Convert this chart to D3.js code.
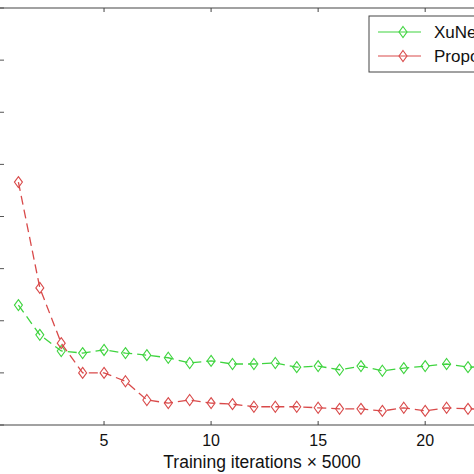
<!DOCTYPE html>
<html><head><meta charset="utf-8">
<script src="https://d3js.org/d3.v7.min.js"></script>
<style>body{margin:0;background:#fff}svg{display:block}</style>
</head><body>
<svg id="chart" width="474" height="474"></svg>
<script>
var iters = d3.range(1, 24)
var xunet = [2.30,1.73,1.42,1.38,1.44,1.38,1.34,1.29,1.19,1.23,1.17,1.17,1.19,1.11,1.13,1.06,1.13,1.04,1.09,1.13,1.17,1.11,1.12]
var proposed = [4.66,2.63,1.57,1.00,1.00,0.84,0.48,0.42,0.48,0.42,0.40,0.35,0.35,0.35,0.33,0.31,0.31,0.27,0.33,0.27,0.33,0.31,0.30]
var xTicks = [5, 10, 15, 20]
var yTicks = d3.range(0, 9)
var nombres = ['XuNet', 'Proposed']
var colores = ['#3fd43f', '#d94a4a']

var svg = d3.select('#chart')
var x = d3.scaleLinear().domain([0, 22]).range([-3, 468])
var y = d3.scaleLinear().domain([0, 8]).range([425, 8])

var g = svg.append('g')
g.append('line').attr('x1', 0).attr('x2', 474).attr('y1', y(0)).attr('y2', y(0)).attr('stroke', '#444').attr('stroke-width', 1.2)
g.append('line').attr('x1', 0).attr('x2', 474).attr('y1', y(8)).attr('y2', y(8)).attr('stroke', '#444').attr('stroke-width', 1.2)

// ticks
xTicks.forEach(function(t){
    g.append('line').attr('x1', x(t)).attr('x2', x(t)).attr('y1', y(0)).attr('y2', y(0)-4).attr('stroke', '#444')
    g.append('line').attr('x1', x(t)).attr('x2', x(t)).attr('y1', y(8)).attr('y2', y(8)+4).attr('stroke', '#444')
    g.append('text').attr('x', x(t)).attr('y', 446).attr('text-anchor', 'middle')
        .attr('font-family', 'Liberation Sans, Arial').attr('font-size', 16).attr('fill', '#111').text(t)
})
yTicks.forEach(function(t){
    g.append('line').attr('x1', 0).attr('x2', 4).attr('y1', y(t)).attr('y2', y(t)).attr('stroke', '#555')
})
g.append('text').attr('x', 262).attr('y', 468).attr('text-anchor', 'middle')
    .attr('font-family', 'Liberation Sans, Arial').attr('font-size', 17.5).attr('fill', '#111')
    .text('Training iterations \u00d7 5000')

var diamante = function(sel, cx, cy, c){
    sel.append('path').attr('d', 'M' + cx + ',' + (cy-5.5) + 'L' + (cx+4) + ',' + cy + 'L' + cx + ',' + (cy+5.5) + 'L' + (cx-4) + ',' + cy + 'Z')
        .attr('fill', 'none').attr('stroke', c).attr('stroke-width', 1.1)
}

var linea = d3.line().x(function(d){ return x(d[0]) }).y(function(d){ return y(d[1]) })
;[xunet, proposed].forEach(function(serie, i){
    var pts = iters.map(function(it, k){ return [it, serie[k]] })
    g.append('path').attr('d', linea(pts)).attr('fill', 'none').attr('stroke', colores[i])
        .attr('stroke-width', 1.3).attr('stroke-dasharray', '9,5')
    pts.forEach(function(p){ diamante(g, x(p[0]), y(p[1]), colores[i]) })
})

// leyenda
var ley = svg.append('g')
ley.append('rect').attr('x', 369).attr('y', 16).attr('width', 120).attr('height', 56)
    .attr('fill', '#fff').attr('stroke', '#444').attr('stroke-width', 1)
nombres.forEach(function(n, i){
    var ly = 32 + i * 24
    ley.append('line').attr('x1', 378).attr('x2', 421).attr('y1', ly).attr('y2', ly).attr('stroke', colores[i]).attr('stroke-width', 1.2)
    diamante(ley, 403, ly, colores[i])
    ley.append('text').attr('x', 434).attr('y', ly + 6).attr('font-family', 'Liberation Sans, Arial')
        .attr('font-size', 17).attr('fill', '#111').text(n)
})
</script>
</body></html>
